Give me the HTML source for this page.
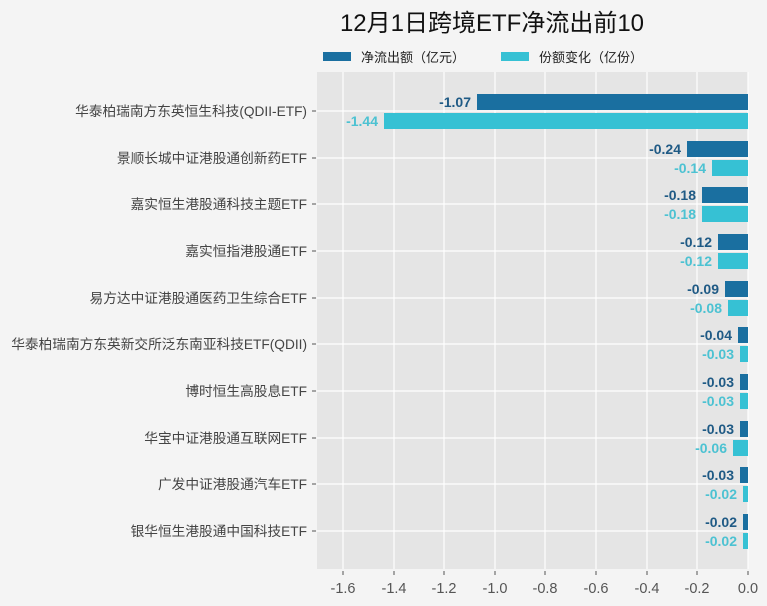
<!DOCTYPE html>
<html><head><meta charset="utf-8"><style>
html,body{margin:0;padding:0;background:#f4f4f4;}
svg{display:block;font-family:"Liberation Sans","Noto Sans CJK SC",sans-serif;}
</style></head><body>
<svg width="767" height="606" viewBox="0 0 767 606" xmlns="http://www.w3.org/2000/svg">
<rect width="767" height="606" fill="#f4f4f4"/>
<text x="492" y="31" font-size="24" text-anchor="middle" fill="#111">12月1日跨境ETF净流出前10</text>
<rect x="323" y="52" width="28" height="9" fill="#1a6fa0"/>
<text x="361" y="62" font-size="13" fill="#222">净流出额（亿元）</text>
<rect x="501" y="52" width="28" height="9" fill="#36c1d4"/>
<text x="539" y="62" font-size="13" fill="#222">份额变化（亿份）</text>
<rect x="317" y="72" width="431" height="497" fill="#e5e5e5"/>
<g stroke="#fff" stroke-width="1.2">
<line x1="343" y1="72" x2="343" y2="569"/><line x1="394" y1="72" x2="394" y2="569"/><line x1="444" y1="72" x2="444" y2="569"/><line x1="495" y1="72" x2="495" y2="569"/><line x1="545" y1="72" x2="545" y2="569"/><line x1="596" y1="72" x2="596" y2="569"/><line x1="647" y1="72" x2="647" y2="569"/><line x1="697" y1="72" x2="697" y2="569"/><line x1="748" y1="72" x2="748" y2="569"/>
<line x1="317" y1="111" x2="748" y2="111"/><line x1="317" y1="158" x2="748" y2="158"/><line x1="317" y1="204" x2="748" y2="204"/><line x1="317" y1="251" x2="748" y2="251"/><line x1="317" y1="298" x2="748" y2="298"/><line x1="317" y1="344" x2="748" y2="344"/><line x1="317" y1="391" x2="748" y2="391"/><line x1="317" y1="438" x2="748" y2="438"/><line x1="317" y1="484" x2="748" y2="484"/><line x1="317" y1="531" x2="748" y2="531"/>
</g>
<g stroke="#555" stroke-width="1">
<line x1="312" y1="111" x2="316" y2="111"/><line x1="312" y1="158" x2="316" y2="158"/><line x1="312" y1="204" x2="316" y2="204"/><line x1="312" y1="251" x2="316" y2="251"/><line x1="312" y1="298" x2="316" y2="298"/><line x1="312" y1="344" x2="316" y2="344"/><line x1="312" y1="391" x2="316" y2="391"/><line x1="312" y1="438" x2="316" y2="438"/><line x1="312" y1="484" x2="316" y2="484"/><line x1="312" y1="531" x2="316" y2="531"/>
<line x1="343" y1="571" x2="343" y2="575"/><line x1="394" y1="571" x2="394" y2="575"/><line x1="444" y1="571" x2="444" y2="575"/><line x1="495" y1="571" x2="495" y2="575"/><line x1="545" y1="571" x2="545" y2="575"/><line x1="596" y1="571" x2="596" y2="575"/><line x1="647" y1="571" x2="647" y2="575"/><line x1="697" y1="571" x2="697" y2="575"/><line x1="748" y1="571" x2="748" y2="575"/>
</g>
<g font-size="13.7" fill="#444" text-anchor="end">
<text x="307" y="116">华泰柏瑞南方东英恒生科技(QDII-ETF)</text>
<text x="307" y="163">景顺长城中证港股通创新药ETF</text>
<text x="307" y="209">嘉实恒生港股通科技主题ETF</text>
<text x="307" y="256">嘉实恒指港股通ETF</text>
<text x="307" y="303">易方达中证港股通医药卫生综合ETF</text>
<text x="307" y="349">华泰柏瑞南方东英新交所泛东南亚科技ETF(QDII)</text>
<text x="307" y="396">博时恒生高股息ETF</text>
<text x="307" y="443">华宝中证港股通互联网ETF</text>
<text x="307" y="489">广发中证港股通汽车ETF</text>
<text x="307" y="536">银华恒生港股通中国科技ETF</text>
</g>
<g font-size="14.5" fill="#555" text-anchor="middle">
<text x="343" y="593">-1.6</text><text x="394" y="593">-1.4</text><text x="444" y="593">-1.2</text><text x="495" y="593">-1.0</text><text x="545" y="593">-0.8</text><text x="596" y="593">-0.6</text><text x="647" y="593">-0.4</text><text x="697" y="593">-0.2</text><text x="748" y="593">0.0</text>
</g>
<g fill="#1a6fa0">
<rect x="477" y="94" width="271" height="16"/>
<rect x="687" y="141" width="61" height="16"/>
<rect x="702" y="187" width="46" height="16"/>
<rect x="718" y="234" width="30" height="16"/>
<rect x="725" y="281" width="23" height="16"/>
<rect x="738" y="327" width="10" height="16"/>
<rect x="740" y="374" width="8" height="16"/>
<rect x="740" y="421" width="8" height="16"/>
<rect x="740" y="467" width="8" height="16"/>
<rect x="743" y="514" width="5" height="16"/>
</g>
<g fill="#36c1d4">
<rect x="384" y="113" width="364" height="16"/>
<rect x="712" y="160" width="36" height="16"/>
<rect x="702" y="206" width="46" height="16"/>
<rect x="718" y="253" width="30" height="16"/>
<rect x="728" y="300" width="20" height="16"/>
<rect x="740" y="346" width="8" height="16"/>
<rect x="740" y="393" width="8" height="16"/>
<rect x="733" y="440" width="15" height="16"/>
<rect x="743" y="486" width="5" height="16"/>
<rect x="743" y="533" width="5" height="16"/>
</g>
<g font-size="14" font-weight="bold" fill="#1f5a85" text-anchor="end">
<text x="471" y="107">-1.07</text><text x="681" y="154">-0.24</text><text x="696" y="200">-0.18</text><text x="712" y="247">-0.12</text><text x="719" y="294">-0.09</text><text x="732" y="340">-0.04</text><text x="734" y="387">-0.03</text><text x="734" y="434">-0.03</text><text x="734" y="480">-0.03</text><text x="737" y="527">-0.02</text>
</g>
<g font-size="14" font-weight="bold" fill="#4cc2d2" text-anchor="end">
<text x="378" y="126">-1.44</text><text x="706" y="173">-0.14</text><text x="696" y="219">-0.18</text><text x="712" y="266">-0.12</text><text x="722" y="313">-0.08</text><text x="734" y="359">-0.03</text><text x="734" y="406">-0.03</text><text x="727" y="453">-0.06</text><text x="737" y="499">-0.02</text><text x="737" y="546">-0.02</text>
</g>
</svg>
</body></html>
